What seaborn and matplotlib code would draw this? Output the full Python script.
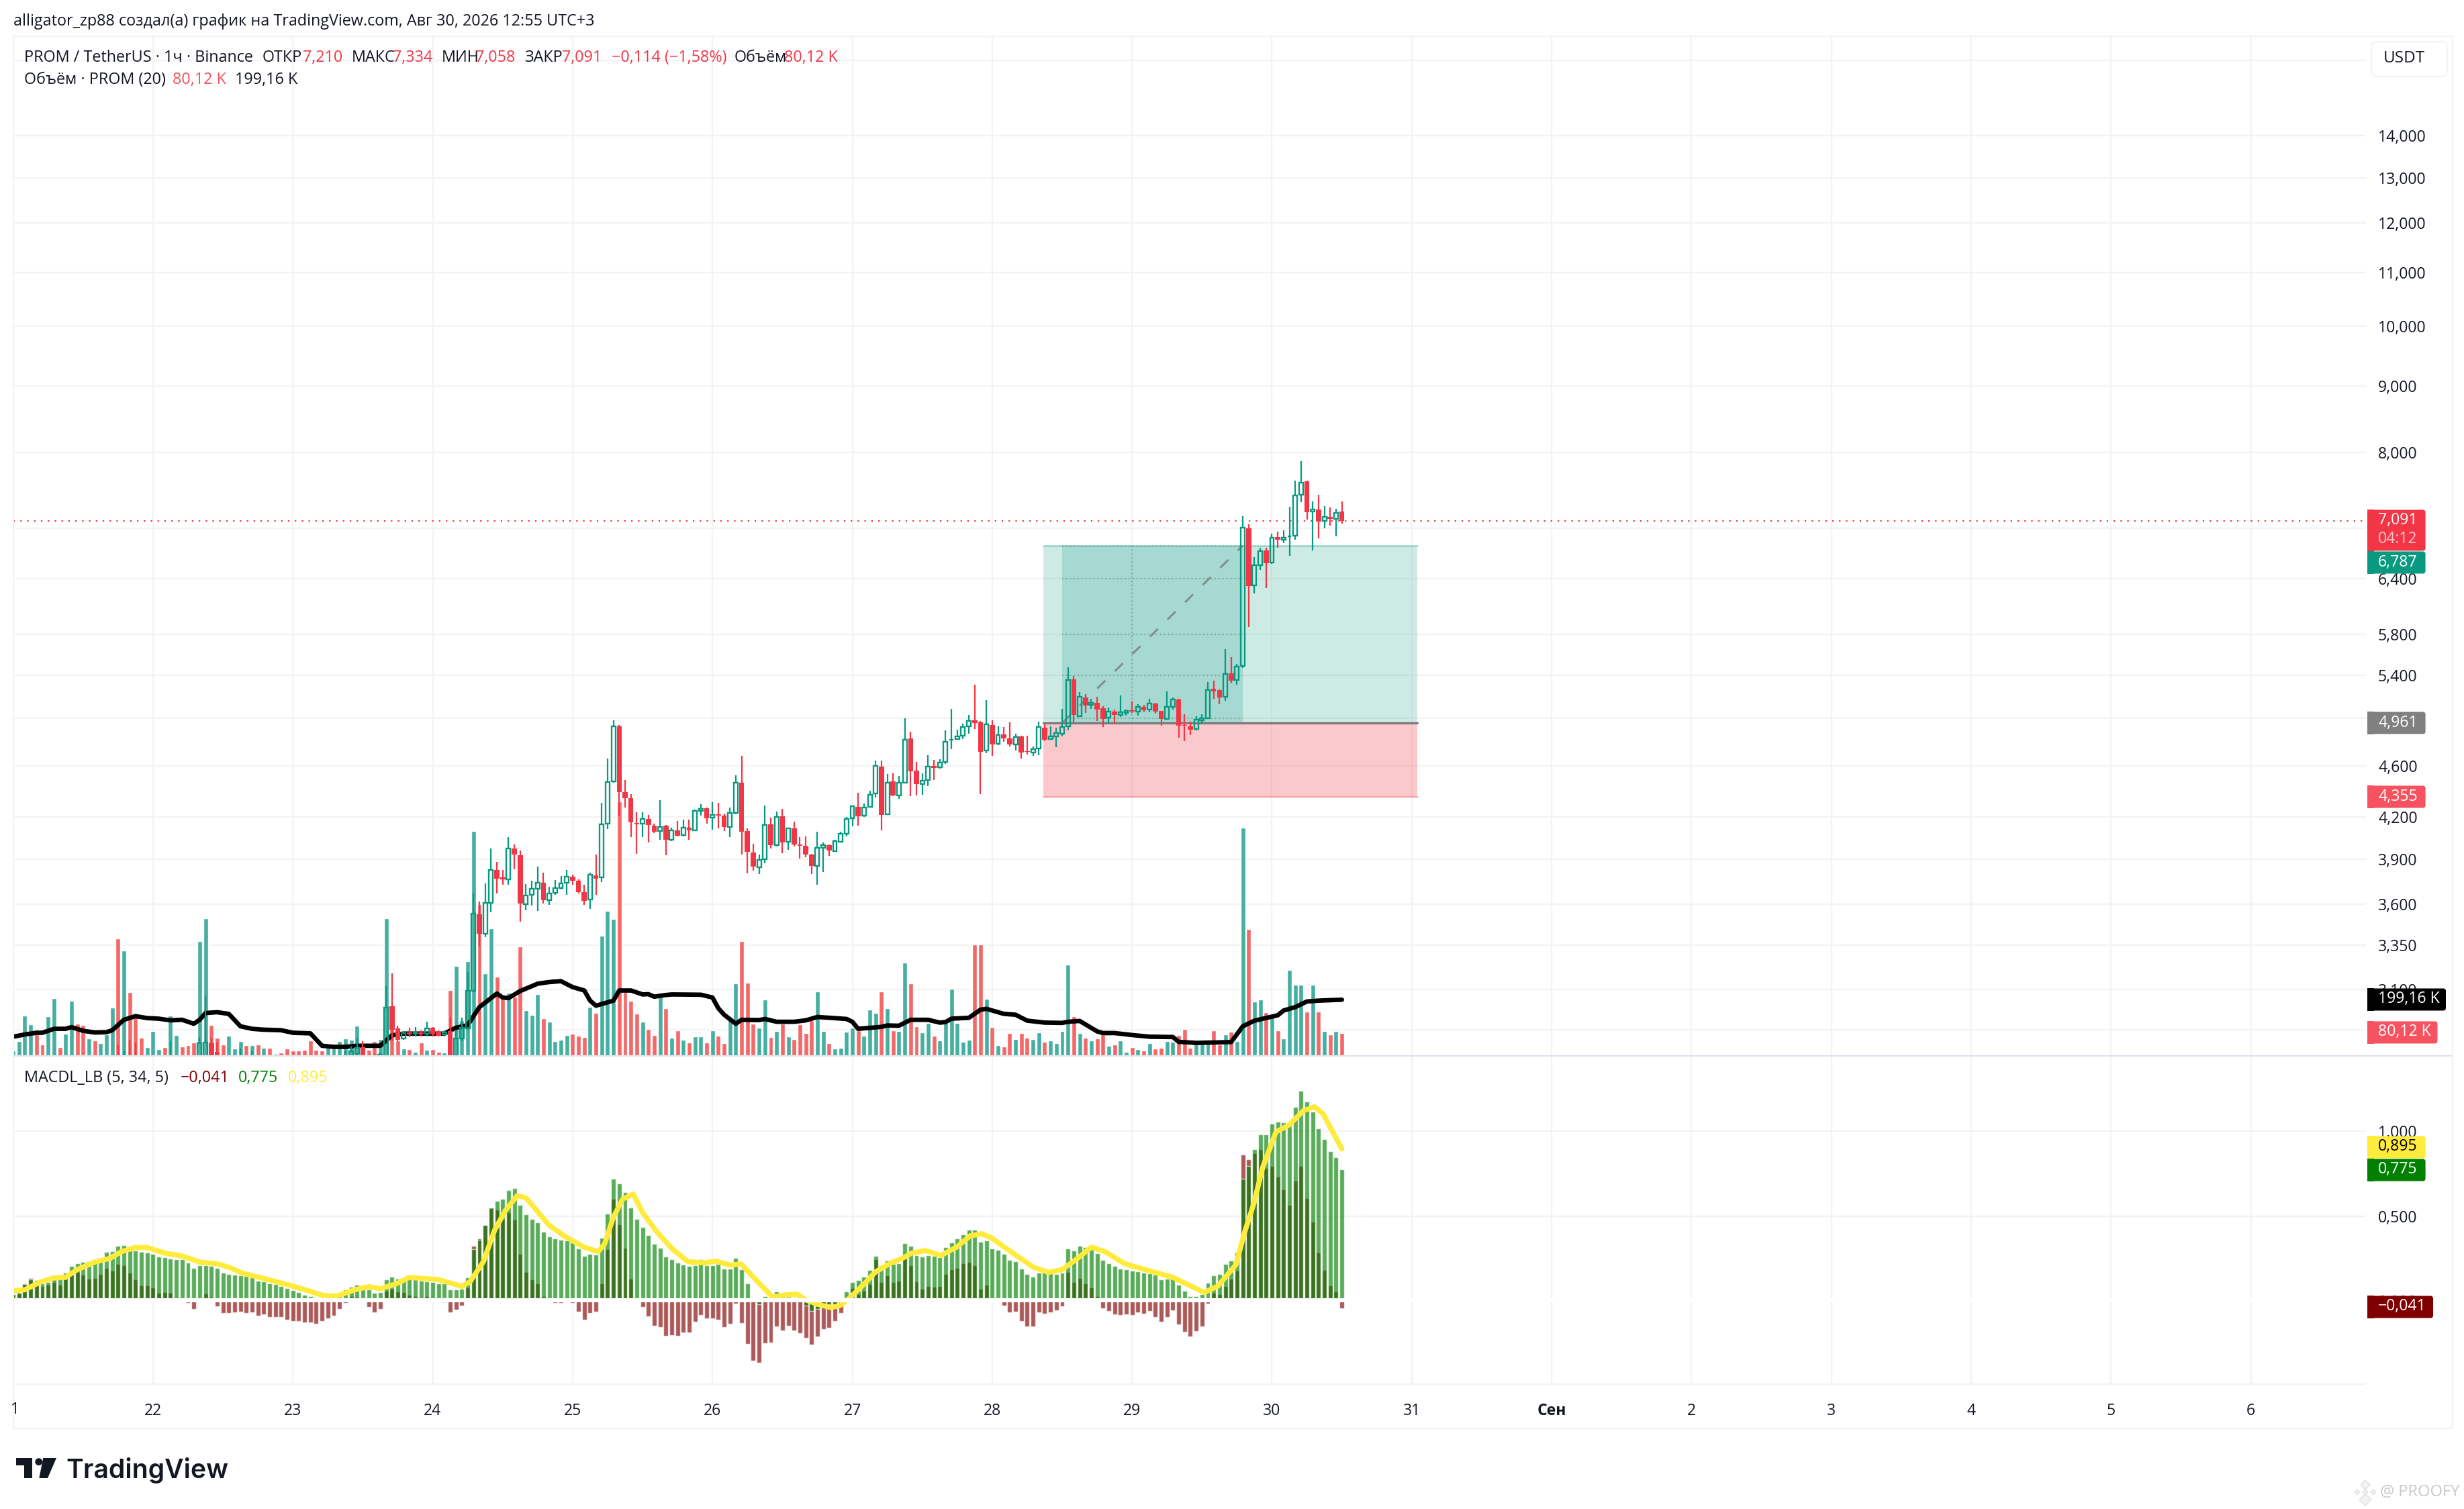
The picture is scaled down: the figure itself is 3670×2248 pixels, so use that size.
import numpy as np
import pandas as pd
import matplotlib
matplotlib.use("Agg")
import matplotlib.pyplot as plt
from matplotlib.patches import Rectangle, Polygon, Circle, FancyBboxPatch
import seaborn as sns

# ---------- price data (hourly candles) ----------
opens = [2.560,2.570,2.580,2.600,2.610,2.600,2.595,2.615,2.640,2.635,
2.645,2.675,2.660,2.645,2.655,2.650,2.658,2.668,2.700,2.660,
2.690,2.670,2.650,2.640,2.648,2.665,2.670,2.662,2.690,2.705,
2.698,2.690,2.682,2.740,2.818,2.774,2.700,2.690,2.700,2.705,
2.715,2.700,2.710,2.700,2.705,2.700,2.702,2.698,2.690,2.685,
2.680,2.672,2.655,2.648,2.642,2.655,2.668,2.690,2.720,2.764,
2.799,2.740,2.725,2.715,2.750,3.009,2.892,2.841,2.873,2.864,
2.873,2.866,2.895,2.876,2.860,2.879,2.757,2.841,2.892,3.091,
3.538,3.420,3.610,3.827,3.775,3.765,3.974,3.929,3.602,3.664,
3.701,3.741,3.628,3.674,3.706,3.739,3.781,3.756,3.680,3.630,
3.790,3.775,4.155,4.476,4.931,4.391,4.343,4.159,4.155,4.186,
4.140,4.099,4.140,4.035,4.105,4.070,4.123,4.105,4.249,4.266,
4.197,4.222,4.214,4.129,4.233,4.464,4.099,3.947,3.843,3.900,
4.148,3.998,4.207,4.020,4.118,4.003,3.992,3.933,3.853,3.980,
4.000,3.957,4.022,4.081,4.193,4.277,4.210,4.277,4.379,4.593,
4.222,4.474,4.367,4.464,4.825,4.559,4.452,4.488,4.597,4.586,
4.630,4.814,4.821,4.851,4.929,4.985,4.966,4.727,4.946,4.781,
4.862,4.825,4.777,4.843,4.720,4.708,4.742,4.920,4.821,4.847,
4.867,4.931,5.360,5.021,5.187,5.120,5.139,5.093,5.007,5.060,
5.035,5.053,5.074,5.060,5.102,5.079,5.137,5.069,4.998,5.102,
5.171,4.945,4.931,4.907,4.987,5.005,5.270,5.256,5.194,5.413,
5.355,5.489,7.000,6.330,6.559,6.726,6.583,6.892,6.860,6.895,
6.905,7.421,7.602,7.212,7.235,7.089,7.137,7.118,7.210]
closes = [2.570,2.580,2.600,2.610,2.600,2.595,2.615,2.640,2.635,2.645,
2.675,2.660,2.645,2.655,2.650,2.658,2.668,2.700,2.660,2.690,
2.670,2.650,2.640,2.648,2.665,2.670,2.662,2.690,2.705,2.698,
2.690,2.682,2.818,2.820,2.730,2.700,2.690,2.700,2.705,2.715,
2.700,2.710,2.700,2.705,2.700,2.702,2.698,2.690,2.685,2.680,
2.672,2.655,2.648,2.642,2.655,2.668,2.690,2.720,2.777,2.796,
2.740,2.725,2.715,2.760,3.002,2.886,2.834,2.869,2.860,2.873,
2.860,2.892,2.860,2.856,2.873,2.757,2.841,2.895,3.091,3.541,
3.420,3.610,3.827,3.770,3.765,3.974,3.931,3.605,3.657,3.701,
3.739,3.627,3.670,3.706,3.736,3.781,3.756,3.680,3.623,3.795,
3.768,4.146,4.472,4.933,4.391,4.343,4.163,4.146,4.186,4.142,
4.092,4.130,4.035,4.105,4.066,4.123,4.103,4.245,4.264,4.193,
4.218,4.214,4.127,4.231,4.466,4.092,3.949,3.848,3.895,4.142,
3.996,4.201,4.018,4.118,4.001,3.992,3.933,3.853,3.978,3.996,
3.959,4.025,4.079,4.189,4.283,4.205,4.275,4.371,4.597,4.216,
4.466,4.367,4.462,4.818,4.553,4.452,4.482,4.595,4.582,4.628,
4.801,4.818,4.847,4.927,4.980,4.964,4.716,4.950,4.777,4.858,
4.825,4.777,4.840,4.710,4.712,4.737,4.925,4.819,4.847,4.874,
4.925,5.350,5.033,5.194,5.118,5.141,5.083,4.996,5.060,5.033,
5.056,5.067,5.060,5.102,5.072,5.134,5.065,4.998,5.102,5.169,
4.940,4.936,4.900,4.989,5.003,5.258,5.248,5.192,5.411,5.348,
5.481,7.007,6.321,6.556,6.720,6.580,6.883,6.857,6.886,6.902,
7.414,7.584,7.199,7.235,7.083,7.140,7.118,7.188,7.091]
highs = [2.580,2.585,2.605,2.620,2.615,2.610,2.625,2.650,2.645,2.655,
2.685,2.680,2.665,2.665,2.660,2.665,2.675,2.710,2.808,2.779,
2.834,2.818,2.660,2.655,2.675,2.680,2.680,2.829,2.715,2.712,
2.705,2.700,2.847,3.065,2.843,2.822,2.745,2.710,2.715,2.790,
2.725,2.777,2.715,2.715,2.710,2.708,2.708,2.702,2.695,2.690,
2.685,2.680,2.660,2.655,2.660,2.675,2.700,2.777,2.802,2.841,
2.829,2.750,2.764,2.770,3.116,3.187,2.905,2.879,2.895,2.898,
2.882,2.926,2.898,2.882,2.882,2.952,2.886,2.946,3.196,3.677,
3.618,3.736,3.974,3.882,3.827,4.053,4.003,3.961,3.731,3.756,
3.848,3.809,3.714,3.758,3.787,3.827,3.795,3.765,3.728,3.809,
3.931,4.308,4.657,4.985,4.946,4.484,4.377,4.235,4.235,4.216,
4.155,4.331,4.144,4.123,4.174,4.184,4.184,4.257,4.298,4.273,
4.314,4.308,4.227,4.270,4.524,4.681,4.118,4.007,3.931,4.289,
4.197,4.241,4.264,4.121,4.165,4.053,4.062,3.938,4.095,4.016,
4.003,4.035,4.095,4.203,4.289,4.387,4.304,4.403,4.643,4.643,
4.534,4.538,4.518,5.003,4.884,4.632,4.538,4.685,4.649,4.653,
4.898,5.086,4.902,4.957,5.031,5.307,4.980,5.164,4.985,4.931,
4.924,4.966,4.869,4.851,4.851,4.759,4.973,4.951,4.931,4.918,
5.088,5.477,5.391,5.239,5.222,5.180,5.199,5.111,5.100,5.079,
5.208,5.079,5.153,5.130,5.123,5.180,5.141,5.069,5.246,5.190,
5.180,5.037,4.973,5.019,5.037,5.331,5.343,5.263,5.650,5.573,
5.506,7.150,7.045,6.647,6.757,6.763,6.934,6.959,6.971,7.265,
7.608,7.874,7.608,7.341,7.421,7.277,7.261,7.242,7.334]
lows = [2.550,2.560,2.570,2.590,2.590,2.585,2.585,2.605,2.625,2.625,
2.635,2.650,2.635,2.635,2.640,2.640,2.650,2.660,2.650,2.650,
2.660,2.640,2.630,2.630,2.640,2.655,2.650,2.655,2.680,2.690,
2.680,2.672,2.672,2.730,2.720,2.690,2.680,2.680,2.690,2.695,
2.690,2.690,2.690,2.690,2.690,2.690,2.690,2.680,2.675,2.670,
2.660,2.645,2.640,2.632,2.632,2.645,2.660,2.680,2.710,2.750,
2.730,2.715,2.705,2.705,2.740,2.828,2.828,2.834,2.847,2.853,
2.851,2.853,2.853,2.851,2.853,2.720,2.740,2.828,2.886,3.082,
3.344,3.397,3.550,3.669,3.728,3.728,3.830,3.491,3.565,3.594,
3.559,3.607,3.597,3.664,3.697,3.664,3.728,3.669,3.597,3.570,
3.660,3.744,4.114,4.464,4.212,4.270,4.053,3.938,4.053,4.018,
4.085,4.035,3.926,4.026,4.062,4.062,4.035,4.103,4.212,4.155,
4.108,4.118,4.099,4.053,4.222,3.931,3.802,3.822,3.799,3.874,
3.974,3.989,3.943,3.967,3.989,3.903,3.914,3.799,3.728,3.813,
3.924,3.952,4.016,4.062,4.132,4.136,4.203,4.270,4.347,4.105,
4.216,4.357,4.337,4.457,4.361,4.363,4.371,4.438,4.488,4.578,
4.616,4.737,4.816,4.821,4.869,4.908,4.374,4.706,4.683,4.770,
4.799,4.759,4.724,4.660,4.691,4.683,4.685,4.803,4.814,4.755,
4.847,4.898,4.961,5.014,5.049,5.088,4.980,4.925,4.961,4.957,
5.014,5.026,5.051,5.026,5.056,5.056,5.042,4.936,4.991,5.083,
4.832,4.805,4.854,4.898,4.947,4.998,5.180,5.130,5.162,5.323,
5.311,5.469,5.877,6.238,6.501,6.298,6.574,6.763,6.818,6.666,
6.860,7.331,7.108,6.732,6.873,6.997,7.032,6.895,7.058]

# ---------- volume, thousands ----------
volumes = [18,53,143,112,75,41,140,205,31,79,195,115,109,62,55,46,77,171,417,374,
226,150,65,31,88,24,31,143,74,34,38,47,407,488,109,65,41,72,26,53,
38,38,41,29,29,7,12,26,19,19,22,55,22,19,36,36,53,62,57,107,
41,22,53,59,488,100,55,26,24,15,47,22,24,15,12,233,319,127,336,798,
537,293,453,281,210,224,210,388,162,146,220,134,121,53,57,74,79,72,67,174,
152,426,515,486,903,226,195,150,121,96,74,210,169,65,90,57,47,69,69,47,
90,72,46,134,257,407,260,115,100,200,67,88,114,69,60,112,81,126,229,88,
46,26,29,86,100,90,72,164,152,229,169,90,88,331,257,105,84,117,72,55,
117,239,117,50,57,395,395,202,103,38,34,81,60,81,65,60,84,50,55,46,
88,324,140,81,65,55,62,77,36,41,55,15,31,24,19,46,26,29,53,50,
74,96,29,53,53,57,90,41,77,86,53,810,450,193,200,155,143,90,62,305,
252,252,158,252,158,88,77,88,80.12]
ma_hours = [0,2,4,5,7,9,10,12,14,16,17,19,21,23,25,27,29,31,32,33,35,37,39,41,43,46,48,51,53,55,
57,59,63,65,67,74,76,78,80,83,84,85,87,90,92,94,96,98,99,100,103,104,106,108,109,110,112,113,118,120,
121,122,124,125,128,129,131,134,136,138,143,144,145,149,150,152,154,157,159,160,161,164,166,167,170,172,174,177,180,181,
183,186,187,189,192,195,199,200,203,209,211,213,217,218,220,222,224,228]
ma_values = [68,76,82,82,96,96,102,89,83,84,91,128,141,134,132,126,128,114,128,152,155,149,105,96,93,91,82,80,36,32,
32,36,36,73,79,79,100,109,173,221,207,205,230,256,262,265,244,232,196,178,196,232,232,218,219,210,216,218,217,207,
169,146,114,128,127,131,121,121,126,138,131,121,96,103,108,107,128,128,118,120,132,135,164,167,149,146,125,118,117,121,
124,87,81,81,74,68,67,50,46,49,105,125,144,161,173,193,196,199.16]

# ---------- MACD ----------
macd_green = [.040,.047,.099,.128,.123,.102,.110,.146,.146,.165,.205,.222,.229,.234,.244,.254,.287,.291,.323,.330,
.304,.295,.287,.284,.277,.260,.258,.251,.244,.244,.225,.194,.208,.209,.205,.196,.168,.159,.156,.150,
.146,.139,.119,.115,.102,.099,.089,.076,.063,.051,.038,.030,.020,.014,.007,.010,.047,.067,.084,.097,
.086,.067,.047,.053,.128,.144,.132,.136,.139,.126,.119,.117,.110,.102,.102,.069,.069,.073,.139,.304,
.360,.445,.550,.590,.600,.653,.666,.567,.512,.482,.462,.409,.380,.366,.359,.356,.343,.310,.267,.277,
.273,.373,.515,.719,.690,.642,.551,.482,.435,.389,.337,.314,.262,.247,.225,.215,.205,.209,.247,.209,
.211,.218,.189,.192,.255,.188,.105,.020,-.019,.027,.014,.057,.034,.023,.020,.007,-.026,-.059,-.048,-.016,
-.019,-.022,.002,.057,.113,.121,.144,.182,.267,.211,.238,.218,.222,.342,.326,.271,.260,.271,.264,.258,
.317,.346,.366,.393,.418,.421,.350,.356,.310,.300,.277,.242,.235,.192,.160,.144,.165,.165,.165,.159,
.165,.310,.295,.326,.318,.304,.281,.243,.223,.204,.192,.188,.177,.175,.168,.161,.155,.125,.132,.132,
.097,.061,.030,.030,.040,.109,.152,.160,.219,.239,.283,.721,.796,.895,.982,.982,1.045,1.057,1.052,1.044,
1.144,1.239,1.172,1.113,1.014,.951,.883,.844,.775]
macd_maroon = [.040,.047,.105,.136,.097,.086,.097,.113,.097,.132,.155,.172,.155,.132,.136,.159,.194,.179,.218,.208,
.168,.126,.093,.093,.080,.049,.053,.047,.020,.001,-.013,-.045,.001,.043,.023,-.032,-.069,-.069,-.065,-.061,
-.069,-.065,-.085,-.080,-.096,-.096,-.096,-.109,-.117,-.119,-.127,-.127,-.135,-.119,-.101,-.088,-.048,-.013,.027,.024,
.001,-.036,-.065,-.048,.060,.073,.057,.053,.036,.030,.001,.027,.001,.001,-.009,-.065,-.052,-.026,.080,.323,
.367,.445,.547,.537,.482,.521,.478,.277,.172,.126,.102,.027,.001,-.013,-.010,.001,-.013,-.063,-.111,-.069,
-.061,.103,.304,.600,.449,.314,.132,.001,-.036,-.092,-.147,-.155,-.206,-.200,-.206,-.186,-.186,-.121,-.081,-.101,
-.101,-.109,-.155,-.132,-.016,-.131,-.254,-.352,-.364,-.250,-.246,-.148,-.175,-.144,-.175,-.188,-.218,-.258,-.210,-.167,
-.159,-.119,-.072,.002,.076,.040,.060,.099,.247,.113,.150,.110,.119,.271,.211,.115,.073,.089,.082,.089,
.160,.188,.196,.221,.231,.211,.073,.097,.001,.001,-.026,-.065,-.061,-.117,-.148,-.148,-.065,-.073,-.065,-.056,
-.030,.172,.113,.136,.105,.080,.030,-.042,-.057,-.077,-.081,-.077,-.081,-.065,-.073,-.057,-.093,-.121,-.093,-.053,
-.136,-.180,-.208,-.176,-.148,-.014,.047,.040,.086,.132,.180,.860,.836,.871,.895,.781,.796,.733,.658,.567,
.706,.796,.603,.468,.283,.184,.093,.057,-.041]
signal_hours = [0,2,4.7,7,9,11,14,16.6,18.6,21,23,26,29,32,35,37,39.4,43,47,50,53,55,56,58.7,61,63,65.6,68,73,77,
78.4,80.7,82.6,84.5,86.5,88,89.5,91.9,94.6,98,100.4,101.5,103,104.6,106.4,108,110.4,113,115.8,118.6,120.6,123,124.9,126.7,130.3,132.6,134.5,136,138,140.3,
141.9,143.4,146,148,150.7,152.6,154.1,156.5,159.2,161.9,164.2,166.2,168,170,175.1,177.7,180,182.4,185,187.4,190.8,193.5,199,204.4,206.7,209.8,211.3,212.9,214.4,216.7,
219,221.4,223.3,224.8,226,228]
signal_values = [.060,.066,.112,.136,.139,.185,.229,.251,.291,.315,.315,.282,.265,.229,.219,.199,.163,.133,.097,.067,.034,.028,.034,.067,.084,.073,.099,.139,.126,.086,
.113,.232,.416,.534,.620,.607,.547,.448,.382,.316,.290,.336,.494,.600,.629,.521,.409,.310,.231,.224,.235,.211,.218,.152,.023,.036,.040,.007,-.019,-.039,
-.026,.014,.099,.172,.225,.251,.281,.297,.268,.317,.383,.396,.369,.319,.198,.168,.185,.244,.317,.290,.218,.192,.139,.050,.087,.212,.403,.574,.785,.995,
1.037,1.120,1.143,1.101,1.022,.895]

# ---------- scales and labels ----------
price_ticks = [16,14,13,12,11,10,9,8,7,6.4,5.8,5.4,5.0,4.6,4.2,3.9,3.6,3.35,3.1,2.885]
price_tick_labels = ["","14,000","13,000","12,000","11,000","10,000","9,000","8,000","7,000","6,400","5,800","5,400",
                     "5,000","4,600","4,200","3,900","3,600","3,350","3,100",""]
macd_ticks = [1.0,0.5,0.0]
macd_tick_labels = ["1,000","0,500","0,000"]
day_hours = [24*k for k in range(1,17)]
day_labels = ["22","23","24","25","26","27","28","29","30","31","Сен","2","3","4","5","6"]
entry_price, target_price, stop_price = 4.961, 6.787, 4.355
last_price = 7.091

GREEN, RED = "#089981", "#F23645"
VOL_GREEN, VOL_RED = "#45B0A1", "#F46868"
GRID = "#F3F3F4"
INK = "#131722"

sns.set_theme(style="white")
plt.rcParams["font.family"] = ["Open Sans", "DejaVu Sans"]

W, H = 3670, 2248
fig = plt.figure(figsize=(W/100, H/100), dpi=100, facecolor="white")

def rect(l, t, r, b):
    return [l/W, 1-b/H, (r-l)/W, (b-t)/H]

hours = np.arange(len(closes))
o, h, l, c = map(np.array, (opens, highs, lows, closes))
up = c >= o
xlim = ((20-19.6)/8.68, (3524-19.6)/8.68)
PLIM = (2.755, 16.71)

# grid layer with the price scale
ax_grid = fig.add_axes(rect(20, 53, 3524, 1573), zorder=1)
ax_grid.set_yscale("log")
ax_grid.set_xlim(xlim); ax_grid.set_ylim(PLIM)
ax_grid.set_yticks(price_ticks, price_tick_labels)
ax_grid.minorticks_off()
ax_grid.set_xticks(day_hours, [""]*len(day_hours))
ax_grid.yaxis.tick_right()
ax_grid.tick_params(axis="y", length=0, pad=13, labelsize=16.6, labelcolor=INK)
ax_grid.tick_params(axis="x", length=0)
ax_grid.grid(True, color=GRID, lw=1.6)
ax_grid.set_axisbelow(True)
for s in ax_grid.spines.values():
    s.set_visible(False)

# volume layer
ax_vol = fig.add_axes(rect(20, 53, 3524, 1573), zorder=2)
ax_vol.patch.set_visible(False)
vol_df = pd.DataFrame({"hour": hours, "volume": volumes, "dir": np.where(up, "up", "down")})
sns.barplot(data=vol_df, x="hour", y="volume", hue="dir", palette={"up": VOL_GREEN, "down": VOL_RED},
            dodge=False, legend=False, native_scale=True, width=0.8, saturation=1, errorbar=None, ax=ax_vol)
sns.lineplot(x=ma_hours, y=ma_values, color="black", lw=4.8, estimator=None, sort=False, ax=ax_vol, zorder=3)
ax_vol.set_xlim(xlim); ax_vol.set_ylim(0, 3618)
ax_vol.set_axis_off()

# candle layer
ax = fig.add_axes(rect(20, 53, 3524, 1573), zorder=3)
ax.patch.set_visible(False)
ax.set_yscale("log")
left, right, inner_l, inner_r = 176.8, 241.0, 180.0, 211.0
ax.add_patch(Rectangle((left, entry_price), right-left, target_price-entry_price, fc=GREEN, alpha=.2, lw=0, zorder=1))
ax.add_patch(Rectangle((left, stop_price), right-left, entry_price-stop_price, fc=RED, alpha=.27, lw=0, zorder=1))
ax.add_patch(Rectangle((inner_l, entry_price), inner_r-inner_l, target_price-entry_price, fc=GREEN, alpha=.2, lw=0, zorder=1))
ax.plot([left, right], [target_price]*2, color=GREEN, alpha=.3, lw=2, zorder=1.5)
ax.plot([left, right], [stop_price]*2, color=RED, alpha=.3, lw=2, zorder=1.5)
ax.plot([left, right], [entry_price]*2, color="#7B7B7B", lw=2.4, zorder=1.6)
for lvl in (target_price, 6.4, 5.8, 5.4, 5.0):
    ax.plot([inner_l, inner_r], [lvl]*2, color="#7C8A87", lw=1.2, alpha=.8, ls=(0, (1, 2.5)), zorder=1.7)
ax.plot([192, 192], [entry_price, target_price], color="#7C8A87", lw=1.2, alpha=.8, ls=(0, (1, 2.5)), zorder=1.7)
ax.plot([inner_l, inner_r], [entry_price, target_price], color="#7F8180", lw=2.2, alpha=.85, ls=(0, (5.5, 6.5)), zorder=1.8)
ax.plot(xlim, [last_price]*2, color=RED, lw=1.6, ls=(0, (1, 3.6)), zorder=1.9)
top, bot = np.maximum(o, c), np.minimum(o, c)
for mask, col in ((up, GREEN), (~up, RED)):
    ax.vlines(hours[mask], top[mask], h[mask], color=col, lw=1.6, zorder=3)
    ax.vlines(hours[mask], l[mask], bot[mask], color=col, lw=1.6, zorder=3)
ax.bar(hours[~up], (o-c)[~up], bottom=c[~up], width=0.88, color=RED, lw=0, zorder=4)
ax.bar(hours[up], (c-o)[up], bottom=o[up], width=0.68, facecolor="none", edgecolor=GREEN, lw=1.7, zorder=4)
ax.set_xlim(xlim); ax.set_ylim(PLIM)
ax.set_axis_off()

# MACD pane
ax_m = fig.add_axes(rect(20, 1573, 3524, 2062), zorder=2)
sns.barplot(x=hours, y=macd_maroon, color="#800000", alpha=.65, saturation=1, native_scale=True,
            width=0.8, errorbar=None, ax=ax_m, zorder=2)
sns.barplot(x=hours, y=macd_green, color="#008000", alpha=.65, saturation=1, native_scale=True,
            width=0.8, errorbar=None, ax=ax_m, zorder=2.1)
sns.lineplot(x=signal_hours, y=signal_values, color="#FFEB3B", lw=5.5, estimator=None, sort=False, ax=ax_m, zorder=3)
ax_m.axhline(0.005, color="white", lw=4.4, zorder=5)
ax_m.set_xlim(xlim); ax_m.set_ylim(-.4894, 1.4425)
ax_m.set_yticks(macd_ticks, macd_tick_labels)
ax_m.yaxis.tick_right()
ax_m.set_xticks(day_hours, day_labels)
ax_m.tick_params(axis="y", length=0, pad=13, labelsize=16.6, labelcolor=INK)
ax_m.tick_params(axis="x", length=0, pad=20, labelsize=16.6, labelcolor=INK)
for lab, txt in zip(ax_m.get_xticklabels(), day_labels):
    if txt == "Сен":
        lab.set_fontweight("bold")
ax_m.grid(True, color=GRID, lw=1.6)
ax_m.set_axisbelow(True)
ax_m.set_xlabel(""); ax_m.set_ylabel("")
for s in ax_m.spines.values():
    s.set_visible(False)

# overlay in pixel coordinates: frame, legends, price badges, branding
ov = fig.add_axes([0, 0, 1, 1], zorder=10)
ov.set_xlim(0, W); ov.set_ylim(H, 0); ov.axis("off"); ov.patch.set_visible(False)

for xs, ys, col in (([20, 3653], [54, 54], GRID), ([3653, 3653], [54, 2128], GRID), ([20, 3653], [2128, 2128], GRID),
                    ([20, 20], [54, 2128], GRID), ([20, 3524], [2062, 2062], GRID), ([20, 3653], [1573, 1573], "#E0E3EB")):
    ov.plot(xs, ys, color=col, lw=1.6, solid_capstyle="butt")

def T(x, y, s, color=INK, size=16.8, **kw):
    ov.text(x, y, s, color=color, fontsize=size, va="center", ha=kw.pop("ha", "left"), **kw)

T(20, 32, "alligator_zp88 создал(а) график на TradingView.com, Авг 30, 2026 12:55 UTC+3")
T(36, 86, "PROM / TetherUS · 1ч · Binance")
for x, s in ((391, "ОТКР"), (524, "МАКС"), (658, "МИН"), (781, "ЗАКР"), (1094, "Объём")):
    T(x, 86, s)
for x, s in ((451, "7,210"), (585, "7,334"), (708, "7,058"), (837, "7,091"), (911, "−0,114 (−1,58%)"), (1168, "80,12 K")):
    T(x, 86, s, color=RED)
T(36, 119, "Объём · PROM (20)")
T(257, 119, "80,12 K", color="#F7525F")
T(350, 119, "199,16 K")
T(36, 1606, "MACDL_LB (5, 34, 5)")
T(269, 1606, "−0,041", color="#800000")
T(355, 1606, "0,775", color="#008000")
T(429, 1606, "0,895", color="#FFEB3B")
T(23, 2100, "1", size=16.6, ha="center")

def badge(y0, y1, x1, col):
    ov.add_patch(FancyBboxPatch((3530, y0+.5), x1-3530, y1-y0-1, boxstyle="round,pad=0,rounding_size=4",
                                fc=col, ec="none", zorder=4))
    ov.add_patch(Rectangle((3525.5, y0), 10, y1-y0, fc=col, ec="none", zorder=4))

def badge_text(y, s, color="white"):
    T(3542, y, s, color=color, size=16.6, zorder=5)

badge(759, 821, 3612.6, RED); badge_text(775, "7,091"); badge_text(803, "04:12", color="#FBC6CB")
badge(821, 855, 3612.6, GREEN); badge_text(838, "6,787")
badge(1060, 1094, 3612.6, "#808080"); badge_text(1077, "4,961")
badge(1170, 1204, 3612.6, "#F7525F"); badge_text(1187, "4,355")
badge(1472, 1506, 3643, "black"); badge_text(1488, "199,16 K")
badge(1521, 1555, 3630.5, "#F7525F"); badge_text(1537, "80,12 K")
badge(1692, 1726, 3612.6, "#FFEB3B"); badge_text(1708, "0,895", color="black")
badge(1726, 1760, 3612.6, "#008000"); badge_text(1742, "0,775")
badge(1930, 1964, 3624, "#800000"); badge_text(1946, "−0,041")

ov.add_patch(FancyBboxPatch((3532, 62), 113, 52, boxstyle="round,pad=0,rounding_size=9", fc="white", ec=GRID, lw=1.5, zorder=4))
T(3550, 87, "USDT", size=17.5, zorder=5)

# TradingView mark
ov.add_patch(Polygon([(24, 2172), (48, 2172), (48, 2202), (36, 2202), (36, 2183), (24, 2183)], fc=INK, ec="none"))
ov.add_patch(Circle((57.7, 2177.7), 5.4, fc=INK, ec="none"))
ov.add_patch(Polygon([(64.3, 2172), (84, 2172), (71, 2202), (58.3, 2202)], fc=INK, ec="none"))
ov.text(98, 2202, "TradingView", color=INK, fontsize=28.2, fontfamily="Inter", fontweight="semibold", va="baseline", ha="left")

# watermark
for cx, cy, r in ((3523, 2212, 7), (3523, 2234, 9), (3511, 2223, 4), (3535, 2223, 4), (3523, 2223, 4)):
    ov.add_patch(Polygon([(cx, cy-r), (cx+r, cy), (cx, cy+r), (cx-r, cy)], fc="#F1F1F1", ec="#DDDDDD", lw=.8))
T(3545, 2223, "@ PROOFY", color="#C9C9C9", size=17)

fig.savefig("out.png", dpi=100, facecolor="white")
